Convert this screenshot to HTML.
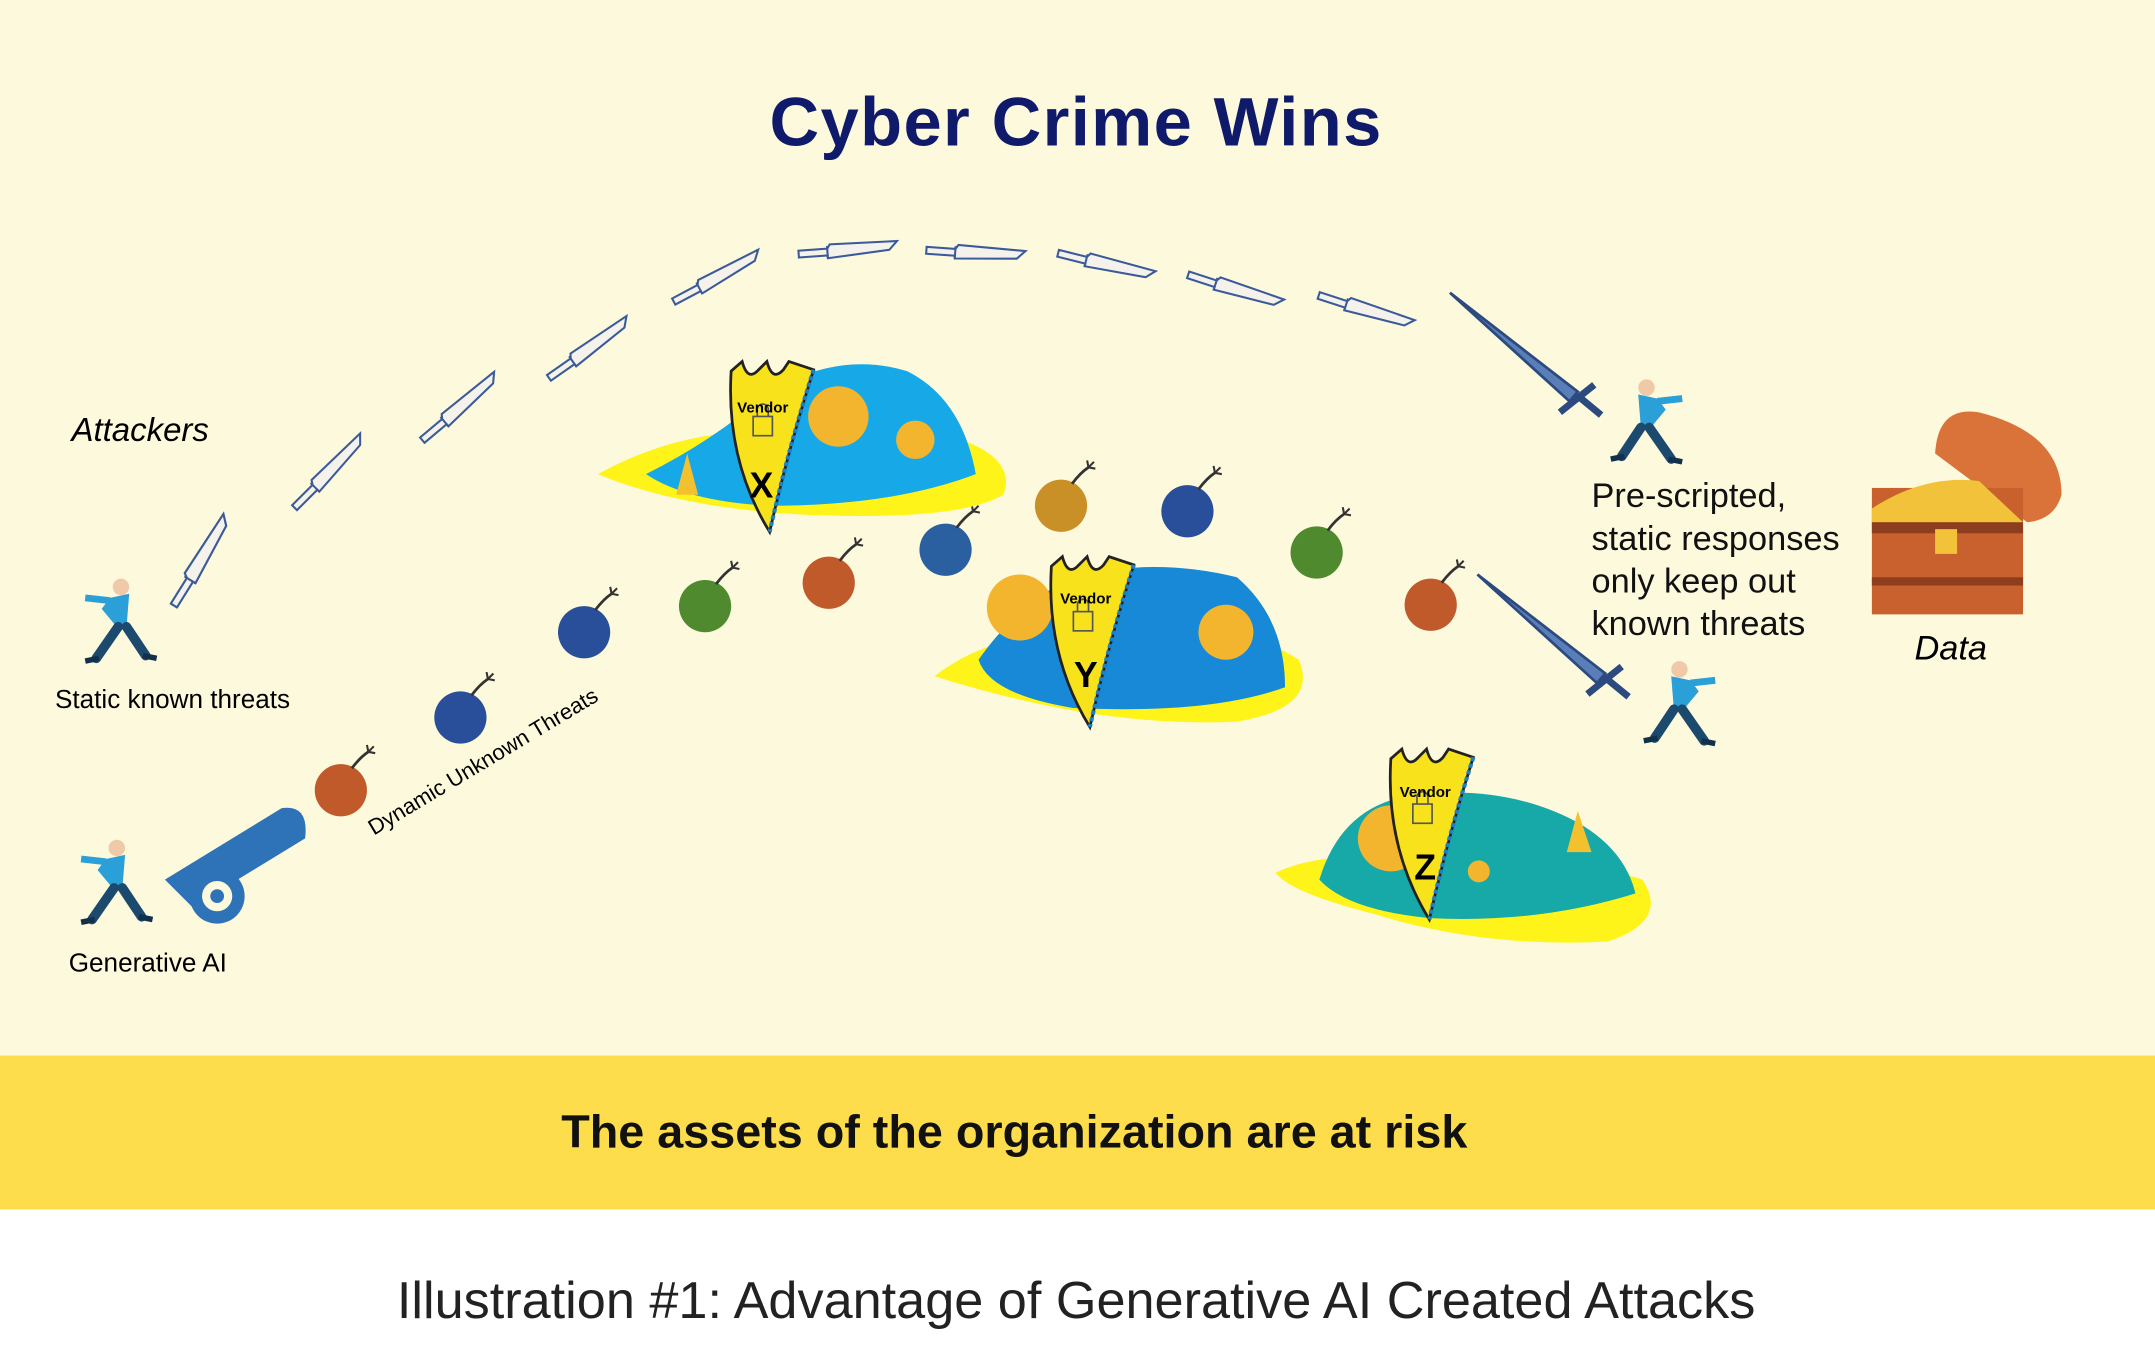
<!DOCTYPE html>
<html><head><meta charset="utf-8"><style>
html,body{margin:0;padding:0;background:#fff}
svg{display:block}
</style></head><body>
<svg width="2155" height="1360" viewBox="0 0 1568 989.5" preserveAspectRatio="none" xmlns="http://www.w3.org/2000/svg" font-family="Liberation Sans, sans-serif">
<defs>
<g id="knife"><path d="M-34,3 L-13,3 L-13,5 L32,2 L38,-4 L-11,-5 L-13,-2 L-34,-2 Z" fill="#f4f2ea" stroke="#3a5a9a" stroke-width="1.5"/><line x1="-13" y1="-4" x2="-13" y2="5" stroke="#3a5a9a" stroke-width="1.5"/></g>
<g id="bomb"><circle r="19" /><path d="M8,-16 q6,-8 12,-12" fill="none" stroke="#333" stroke-width="2"/><path d="M20,-28 l4,-4 M20,-28 l5,1 M20,-28 l-1,-5" stroke="#333" stroke-width="1.5"/></g>
<g id="shield"><path d="M-28,-55 L-20,-62 q4,15 12,6 L-2,-62 q4,15 12,6 L14,-62 L32,-56 Q14,0 0,62 Q-32,10 -28,-55 Z" fill="#f7e21c" stroke="#222" stroke-width="2"/><path d="M32,-56 Q14,0 0,62" fill="none" stroke="#1a80c8" stroke-width="3" stroke-dasharray="3 2"/><rect x="-12" y="-22" width="14" height="14" fill="none" stroke="#555" stroke-width="1.2"/><path d="M-9,-22 v-5 a4,4 0 0 1 8,0 v5" fill="none" stroke="#555" stroke-width="1.2"/></g>
<g id="person"><circle cx="0" cy="-38" r="6" fill="#f0c9a8"/><path d="M-6,-33 L8,-30 L14,-22 L4,-10 L-4,-8 Z" fill="#2b9fd8"/><path d="M8,-28 L26,-30" stroke="#2b9fd8" stroke-width="5"/><path d="M-4,-9 L-18,12 M2,-9 L18,14" stroke="#1c4a6e" stroke-width="7" stroke-linecap="round"/><path d="M-26,14 L-16,12 M16,14 L26,16" stroke="#13304a" stroke-width="4"/></g>
</defs>
<rect width="1568" height="768" fill="#fdf9dc"/>
<rect y="768" width="1568" height="112" fill="#fddd4b"/>
<rect y="880" width="1568" height="110" fill="#fff"/>
<text x="783" y="106" text-anchor="middle" font-size="50" font-weight="bold" letter-spacing="1" fill="#0f1a6b">Cyber Crime Wins</text>

<use href="#knife" transform="translate(145,410) rotate(-58) scale(1.05)"/>
<use href="#knife" transform="translate(238,345) rotate(-45)"/>
<use href="#knife" transform="translate(333,298) rotate(-40)"/>
<use href="#knife" transform="translate(427,255) rotate(-35)"/>
<use href="#knife" transform="translate(520,203) rotate(-28)"/>
<use href="#knife" transform="translate(615,182) rotate(-4)"/>
<use href="#knife" transform="translate(708,184) rotate(4)"/>
<use href="#knife" transform="translate(803,192) rotate(14)"/>
<use href="#knife" transform="translate(897,210) rotate(18)"/>
<use href="#knife" transform="translate(992,225) rotate(18)"/>

<path d="M1055,213 L1148,285 L1142,292 Z" fill="#5a7fb8" stroke="#2c4a80" stroke-width="2"/>
<path d="M1135,300 L1160,280 M1148,288 L1165,302" stroke="#2c4a80" stroke-width="5"/>
<path d="M1075,418 L1168,490 L1162,497 Z" fill="#5a7fb8" stroke="#2c4a80" stroke-width="2"/>
<path d="M1155,505 L1180,485 M1168,493 L1185,507" stroke="#2c4a80" stroke-width="5"/>

<use href="#person" transform="translate(1198,320)"/>
<use href="#person" transform="translate(1222,525)"/>
<use href="#person" transform="translate(88,465) scale(-1,1)"/>
<use href="#person" transform="translate(85,655) scale(-1,1)"/>

<path d="M120,640 L205,588 Q225,585 222,610 L140,660 Z" fill="#2e72b8"/>
<circle cx="158" cy="652" r="20" fill="#2e72b8"/><circle cx="158" cy="652" r="11" fill="#fdf9dc"/><circle cx="158" cy="652" r="5" fill="#2e72b8"/>

<use href="#bomb" fill="#c05a2a" transform="translate(248,575)"/>
<use href="#bomb" fill="#2a4f9a" transform="translate(335,522)"/>
<use href="#bomb" fill="#2a4f9a" transform="translate(425,460)"/>
<use href="#bomb" fill="#4f8a2e" transform="translate(513,441)"/>
<use href="#bomb" fill="#c05a2a" transform="translate(603,424)"/>
<use href="#bomb" fill="#2a5fa0" transform="translate(688,400)"/>
<use href="#bomb" fill="#c99028" transform="translate(772,368)"/>
<use href="#bomb" fill="#2a4f9a" transform="translate(864,372)"/>
<use href="#bomb" fill="#4f8a2e" transform="translate(958,402)"/>
<use href="#bomb" fill="#c05a2a" transform="translate(1041,440)"/>

<path d="M435,345 Q480,320 530,315 Q620,300 700,320 Q740,335 730,360 Q700,378 600,375 Q500,372 435,345 Z" fill="#fff41a"/>
<path d="M470,345 Q520,320 560,285 Q610,255 660,270 Q700,290 710,345 Q650,368 560,368 Q500,365 470,345 Z" fill="#17a8e8"/>
<circle cx="610" cy="303" r="22" fill="#f3b52e"/><circle cx="666" cy="320" r="14" fill="#f3b52e"/>
<path d="M492,360 L500,330 L508,360 Z" fill="#f3c02e"/>
<use href="#shield" transform="translate(560,325)"/>
<text x="555" y="300" font-size="11" font-weight="bold" text-anchor="middle">Vendor</text>
<text x="554" y="362" font-size="26" font-weight="bold" text-anchor="middle">X</text>

<path d="M680,492 Q720,460 800,455 Q900,450 945,480 Q960,515 900,525 Q800,530 680,492 Z" fill="#fff41a"/>
<path d="M712,480 Q740,440 780,420 Q840,405 900,420 Q935,450 935,500 Q880,520 780,515 Q720,505 712,480 Z" fill="#1889d6"/>
<circle cx="742" cy="442" r="24" fill="#f3b52e"/><circle cx="892" cy="460" r="20" fill="#f3b52e"/>
<use href="#shield" transform="translate(793,467)"/>
<text x="790" y="439" font-size="11" font-weight="bold" text-anchor="middle">Vendor</text>
<text x="790" y="500" font-size="26" font-weight="bold" text-anchor="middle">Y</text>

<path d="M928,635 Q960,620 1010,625 Q1120,615 1195,640 Q1215,670 1170,685 Q1080,690 1000,665 Q940,650 928,635 Z" fill="#fff41a"/>
<path d="M960,640 Q975,590 1020,580 Q1080,570 1130,590 Q1180,610 1190,650 Q1120,672 1040,668 Q980,662 960,640 Z" fill="#17a8a8"/>
<circle cx="1012" cy="610" r="24" fill="#f3b52e"/><circle cx="1076" cy="634" r="8" fill="#f3b52e"/>
<path d="M1140,620 L1148,590 L1158,620 Z" fill="#f3c02e"/>
<use href="#shield" transform="translate(1040,607)"/>
<text x="1037" y="580" font-size="11" font-weight="bold" text-anchor="middle">Vendor</text>
<text x="1037" y="640" font-size="26" font-weight="bold" text-anchor="middle">Z</text>

<path d="M1408,330 Q1410,295 1440,300 Q1500,315 1500,360 Q1495,378 1475,380 Z" fill="#d9733a"/>
<rect x="1362" y="355" width="110" height="92" fill="#c8612e"/>
<path d="M1362,370 Q1400,345 1440,350 L1472,380 L1362,380 Z" fill="#f2c33a"/>
<rect x="1362" y="380" width="110" height="8" fill="#8d3e1e"/>
<rect x="1362" y="420" width="110" height="6" fill="#8d3e1e"/>
<rect x="1408" y="385" width="16" height="18" fill="#f2c33a"/>

<text x="52" y="321" font-size="24" font-style="italic">Attackers</text>
<text x="40" y="515" font-size="19">Static known threats</text>
<text x="50" y="707" font-size="19">Generative AI</text>
<text transform="translate(272,608) rotate(-31)" font-size="16">Dynamic Unknown Threats</text>
<g font-size="25" fill="#111"><text x="1158" y="369">Pre-scripted,</text><text x="1158" y="400">static responses</text><text x="1158" y="431">only keep out</text><text x="1158" y="462">known threats</text></g>
<text x="1393" y="480" font-size="25" font-style="italic">Data</text>

<text x="738" y="835" text-anchor="middle" font-size="34" font-weight="bold" fill="#111">The assets of the organization are at risk</text>
<text x="783" y="959" text-anchor="middle" font-size="38" fill="#222">Illustration #1: Advantage of Generative AI Created Attacks</text>
</svg>
</body></html>
